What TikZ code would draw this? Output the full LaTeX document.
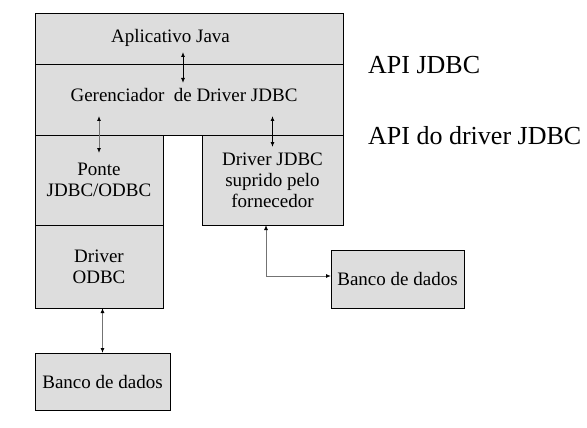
\documentclass[tikz,border=0pt]{standalone}
\usepackage{fontspec}
\setmainfont{Liberation Serif}
\usetikzlibrary{arrows.meta, positioning, calc}
\definecolor{boxgray}{RGB}{221, 221, 221}
\definecolor{linegray}{RGB}{115, 115, 115}

\begin{document}
\begin{tikzpicture}[x=1pt, y=-1pt,
  layer/.style={draw=black, line width=1pt, fill=boxgray, inner sep=0pt, outer sep=0pt,
    align=center, font=\fontsize{19}{21}\selectfont},
  lbl/.style={font=\fontsize{19}{21}\selectfont, inner sep=0pt, anchor=base},
  api/.style={font=\fontsize{26}{28}\selectfont, anchor=base west, inner sep=0pt},
  link/.style={{Latex[length=5pt,width=4pt,color=black]}-{Latex[length=5pt,width=4pt,color=black]}, line width=0.9pt}]
  \useasboundingbox (0,0) rectangle (587,428);

  % camadas superiores
  \node[layer, minimum width=308, minimum height=51] (app) at (189,39.5) {};
  \node[layer, minimum width=308, minimum height=70] (mgr) at (189,100) {};
  \node[lbl] (appTxt) at (170.5,43) {Aplicativo Java};
  \node[lbl] (mgrTxt) at (184,102) {Gerenciador\ \ de Driver JDBC};

  % ponte e driver ODBC
  \node[layer, minimum width=128, minimum height=90] (ponte) at (99,180) {Ponte\\JDBC/ODBC};
  \node[layer, minimum width=128, minimum height=83, below=0pt of ponte] (odbc) {Driver\\ODBC};

  % driver do fornecedor
  \node[layer, minimum width=141, minimum height=90] (drv) at (272.5,180) {Driver JDBC\\suprido pelo\\fornecedor};

  % bancos de dados
  \node[layer, minimum width=133, minimum height=58] (dbR) at (397.5,279) {Banco de dados};
  \node[layer, minimum width=135, minimum height=57] (dbL) at (102.5,381.5) {Banco de dados};

  % APIs
  \node[api] (apiJ) at (368,74) {API JDBC};
  \node[api] (apiD) at (368,144) {API do driver JDBC};

  % ligacoes
  \draw[link] ($(app.south)+(-6,-13)$) -- ($(mgr.north)+(-6,18)$);
  \draw[link, linegray] ($(mgr.south -| ponte.north)+(0,-19)$) -- ($(ponte.north)+(0,18)$);
  \draw[link] ($(mgr.south -| drv.north)+(0,-19)$) -- ($(drv.north)+(0,12)$);
  \draw[link, linegray] ($(drv.south)+(-6.5,0)$) |- ($(dbR.west)+(0,-3)$);
  \draw[link, linegray] (odbc.south -| dbL.north) -- (dbL.north);
\end{tikzpicture}
\end{document}
